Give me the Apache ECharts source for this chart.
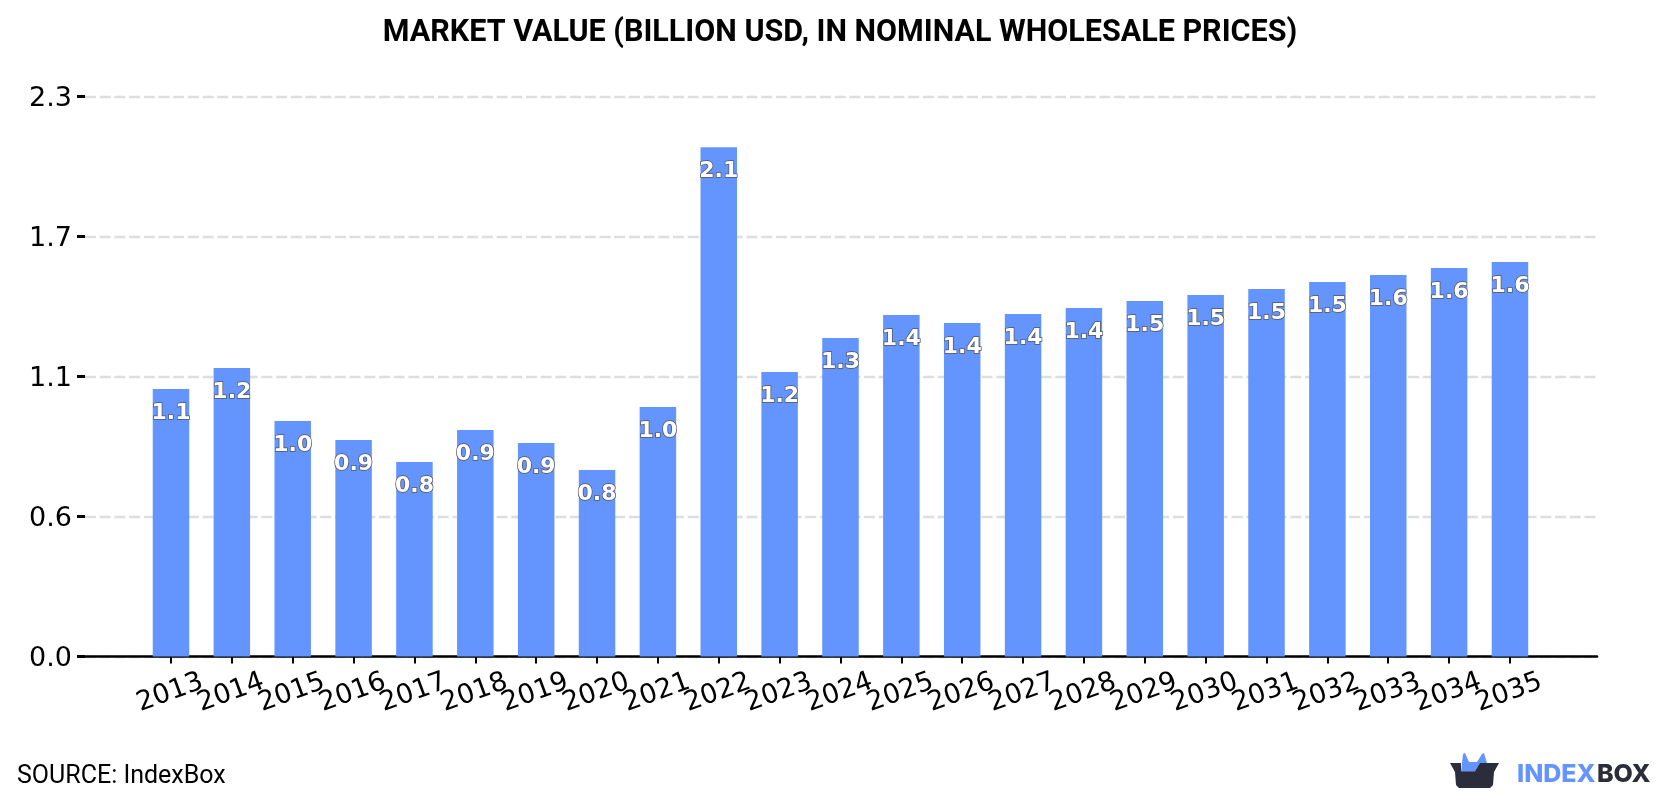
<!DOCTYPE html>
<html>
<head>
<meta charset="utf-8">
<style>html,body{margin:0;padding:0;background:#fff}#chart{width:1680px;height:800px}</style>
<script src="https://cdn.jsdelivr.net/npm/echarts@6/dist/echarts.min.js"></script>
</head>
<body>
<div id="chart"></div>
<script>
// Market value by year, billion USD
const years = ['2013','2014','2015','2016','2017','2018','2019','2020','2021','2022','2023','2024','2025','2026','2027','2028','2029','2030','2031','2032','2033','2034','2035'];
const marketValue = [1.099,1.185,0.967,0.889,0.799,0.930,0.877,0.766,1.025,2.092,1.168,1.308,1.403,1.370,1.407,1.431,1.460,1.485,1.509,1.538,1.567,1.596,1.620];
const yTicks = [0, 0.575, 1.15, 1.725, 2.3];
const yTickLabels = ['0.0', '0.6', '1.1', '1.7', '2.3'];
const titleText = 'MARKET VALUE (BILLION USD, IN NOMINAL WHOLESALE PRICES)';
const sourceText = 'SOURCE: IndexBox';

// The x axis is a numeric index of the years, so it can run past the first and last bar
const xMin = -1.413;
const xMax = 23.43;
const yearIndex = years.map((y, i) => i);
const barData = marketValue.map((v, i) => [i, v]);

const chart = echarts.init(document.getElementById('chart'), null, {renderer: 'canvas'});
chart.setOption({
  animation: false,
  backgroundColor: '#fff',
  title: {
    text: titleText,
    left: 'center',
    top: 13,
    textStyle: {fontFamily: 'Roboto', fontWeight: 'bold', fontSize: 30.5, color: '#000'}
  },
  grid: {left: 85, right: 83, top: 96.5, bottom: 143.5, containLabel: false},
  xAxis: {
    type: 'value',
    min: xMin,
    max: xMax,
    splitLine: {show: false},
    axisLine: {onZero: false, lineStyle: {color: '#000', width: 2.5}},
    axisTick: {
      show: true,
      customValues: yearIndex,
      length: 7,
      lineStyle: {color: '#000', width: 2}
    },
    axisLabel: {
      // Blank labels at the axis ends leave every year label in place
      customValues: [xMin].concat(yearIndex, [xMax]),
      formatter: v => years[v] || '',
      rotate: 20,
      align: 'center',
      verticalAlign: 'middle',
      margin: 36,
      padding: [0, 2, 0, 0],
      fontFamily: 'DejaVu Sans',
      fontSize: 27,
      color: '#000'
    }
  },
  yAxis: {
    type: 'value',
    min: 0,
    max: 2.3,
    interval: 0.575,
    axisLine: {show: false, onZero: false},
    axisTick: {show: true, length: 8, lineStyle: {color: '#000', width: 3}},
    axisLabel: {
      margin: 13,
      verticalAlign: 'top',
      lineHeight: 5,
      fontFamily: 'DejaVu Sans',
      fontSize: 27,
      color: '#000',
      formatter: v => yTickLabels[yTicks.indexOf(v)]
    },
    splitLine: {lineStyle: {color: '#dedede', width: 2.4, type: [11, 3.7]}}
  },
  series: [{
    type: 'bar',
    data: barData,
    barWidth: 36.5,
    itemStyle: {color: '#6495ff'},
    label: {
      show: true,
      position: 'insideTop',
      distance: 13.5,
      formatter: p => p.value[1].toFixed(1),
      fontFamily: 'DejaVu Sans',
      fontWeight: 'bold',
      fontSize: 22,
      color: '#fff',
      textBorderColor: '#555',
      textBorderWidth: 1.5
    }
  }],
  graphic: [
    {type: 'text', left: 17, top: 764.5, style: {text: sourceText, fontFamily: 'Roboto', fontSize: 25, fill: '#000'}},
    {type: 'text', left: 1517, top: 762, style: {text: 'INDEX', fontFamily: 'Inter', fontWeight: 800, fontSize: 25, fill: '#6495ff'}},
    {type: 'text', left: 1597, top: 762, style: {text: 'BOX', fontFamily: 'Inter', fontWeight: 800, fontSize: 25, fill: '#2c2d3a'}},
    // Open box logo: blue flaps behind a dark body
    {type: 'polygon', shape: {points: [[1461,772],[1463,754],[1465,753],[1469,762],[1477,762],[1482,754],[1484,753],[1487,763],[1488,772]]}, style: {fill: '#6495ff'}},
    {type: 'polygon', shape: {points: [[1450,763],[1461,763],[1461,771.5],[1475,771.5],[1480,763],[1499,763],[1494,772],[1493,785],[1490,788],[1459,788],[1456,785],[1455,772]]}, style: {fill: '#2c2d3a'}}
  ]
});
</script>
</body>
</html>
